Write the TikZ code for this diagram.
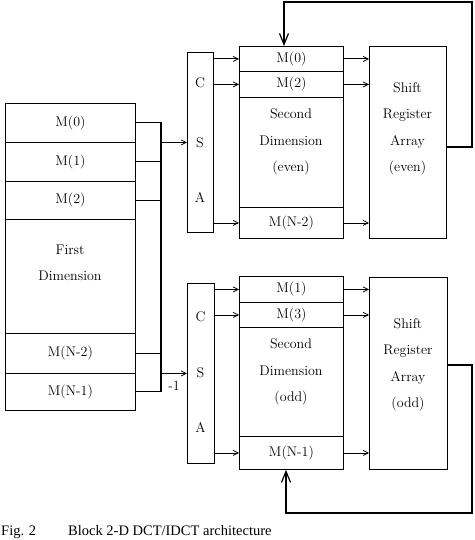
\documentclass[tikz,border=0pt]{standalone}
\usepackage{fontspec}
\newfontfamily\capfont{Liberation Serif}
\usetikzlibrary{arrows.meta,calc}
\begin{document}
\begin{tikzpicture}[x=1pt,y=-1pt,
  font=\fontsize{14}{17}\selectfont,
  cell/.style={draw, line width=0.8pt, inner sep=0pt, anchor=north west},
  lbl/.style={inner sep=0pt, align=center},
  mtxt/.style={inner sep=0pt, align=center, font=\fontsize{14}{26.5}\selectfont},
  sig/.style={line width=0.8pt, -{Straight Barb[length=5pt,width=5pt]}},
  bus/.style={line width=1.1pt},
  fb/.style={line width=2pt, -{Straight Barb[length=11pt,width=9pt,line width=1.2pt]}},
  captxt/.style={anchor=base west, inner sep=0pt, font=\capfont\fontsize{14.5}{16}\selectfont},
]
\useasboundingbox (0,0) rectangle (474,540);

% First dimension
\node[cell, minimum width=130pt, minimum height=39pt] (f0) at (5,103) {M(0)};
\node[cell, minimum width=130pt, minimum height=39pt] (f1) at (5,142) {M(1)};
\node[cell, minimum width=130pt, minimum height=38pt] (f2) at (5,181) {M(2)};
\node[cell, minimum width=130pt, minimum height=114pt] (fd) at (5,219) {};
\node[cell, minimum width=130pt, minimum height=40pt] (fn2) at (5,333) {M(N-2)};
\node[cell, minimum width=130pt, minimum height=37pt] (fn1) at (5,373) {M(N-1)};
\node[mtxt] (fdT) at (70,263) {First\\Dimension};

% bus
\coordinate (bx) at (161,0);
\draw[bus] (f0.east) -- (f0.east -| bx) -- (fn1.east -| bx) -- (fn1.east);
\draw[bus] (f1.east) -- (f1.east -| bx);
\draw[bus] (f2.east) -- (f2.east -| bx);
\draw[bus] (fn2.east) -- (fn2.east -| bx);

% CSA blocks
\node[cell, minimum width=26pt, minimum height=180pt] (csaU) at (187,52) {};
\node[lbl] (cU) at (200,83) {C};
\node[lbl] (sU) at (200,143) {S};
\node[lbl] (aU) at (200,198) {A};
\node[cell, minimum width=27pt, minimum height=180pt] (csaL) at (187,283) {};
\node[lbl] (cL) at (200.5,317) {C};
\node[lbl] (sL) at (200.5,373) {S};
\node[lbl] (aL) at (200.5,427) {A};

\draw[sig] (bx |- csaU.west) -- (csaU.west);
\draw[sig] (bx |- csaL.west) -- (csaL.west);
\node[lbl] (neg) at (174,386) {-1};

% Second dimension even
\node[cell, minimum width=104pt, minimum height=25pt] (e0) at (239,46) {M(0)};
\node[cell, minimum width=104pt, minimum height=26pt] (e2) at (239,71) {M(2)};
\node[cell, minimum width=104pt, minimum height=110pt] (ed) at (239,97) {};
\node[cell, minimum width=104pt, minimum height=31pt] (en2) at (239,207) {M(N-2)};
\node[mtxt] (edT) at (291,142) {Second\\Dimension\\(even)};

% Second dimension odd
\node[cell, minimum width=104pt, minimum height=26pt] (o1) at (239,276) {M(1)};
\node[cell, minimum width=104pt, minimum height=25pt] (o3) at (239,302) {M(3)};
\node[cell, minimum width=104pt, minimum height=109pt] (od) at (239,327) {};
\node[cell, minimum width=104pt, minimum height=33pt] (on1) at (239,436) {M(N-1)};
\node[mtxt] (odT) at (291,372) {Second\\Dimension\\(odd)};

% Shift register arrays
\node[cell, minimum width=77pt, minimum height=192pt] (sre) at (369,46) {};
\node[mtxt] (sreT) at (407.5,129) {Shift\\Register\\Array\\(even)};
\node[cell, minimum width=78pt, minimum height=192pt] (sro) at (369,277) {};
\node[mtxt] (sroT) at (408,365) {Shift\\Register\\Array\\(odd)};

% CSA -> rows
\draw[sig] (csaU.east |- e0.west) -- (e0.west);
\draw[sig] (csaU.east |- e2.west) -- (e2.west);
\draw[sig] (csaU.east |- en2.west) -- (en2.west);
\draw[sig] (csaL.east |- o1.west) -- (o1.west);
\draw[sig] (csaL.east |- o3.west) -- (o3.west);
\draw[sig] (csaL.east |- on1.west) -- (on1.west);

% rows -> shift registers
\draw[sig] (e0.east) -- (e0.east -| sre.west);
\draw[sig] (e2.east) -- (e2.east -| sre.west);
\draw[sig] (en2.east) -- (en2.east -| sre.west);
\draw[sig] (o1.east) -- (o1.east -| sro.west);
\draw[sig] (o3.east) -- (o3.east -| sro.west);
\draw[sig] (on1.east) -- (on1.east -| sro.west);

% feedback loops
\coordinate (yE) at (0,147);
\coordinate (fbUR) at (472,2);
\coordinate (fbUL) at (284,2);
\draw[fb] (sre.east |- yE) -- (fbUR |- yE) -- (fbUR) -- (fbUL) -- (fbUL |- e0.north);
\coordinate (yO) at (0,365);
\coordinate (fbLR) at (472,513);
\coordinate (fbLL) at (286,513);
\draw[fb] (sro.east |- yO) -- (fbLR |- yO) -- (fbLR) -- (fbLL) -- (fbLL |- on1.south);

% caption
\node[captxt] (capA) at (1,535) {Fig. 2};
\node[captxt] (capB) at (68,535) {Block 2-D DCT/IDCT architecture};
\end{tikzpicture}
\end{document}
